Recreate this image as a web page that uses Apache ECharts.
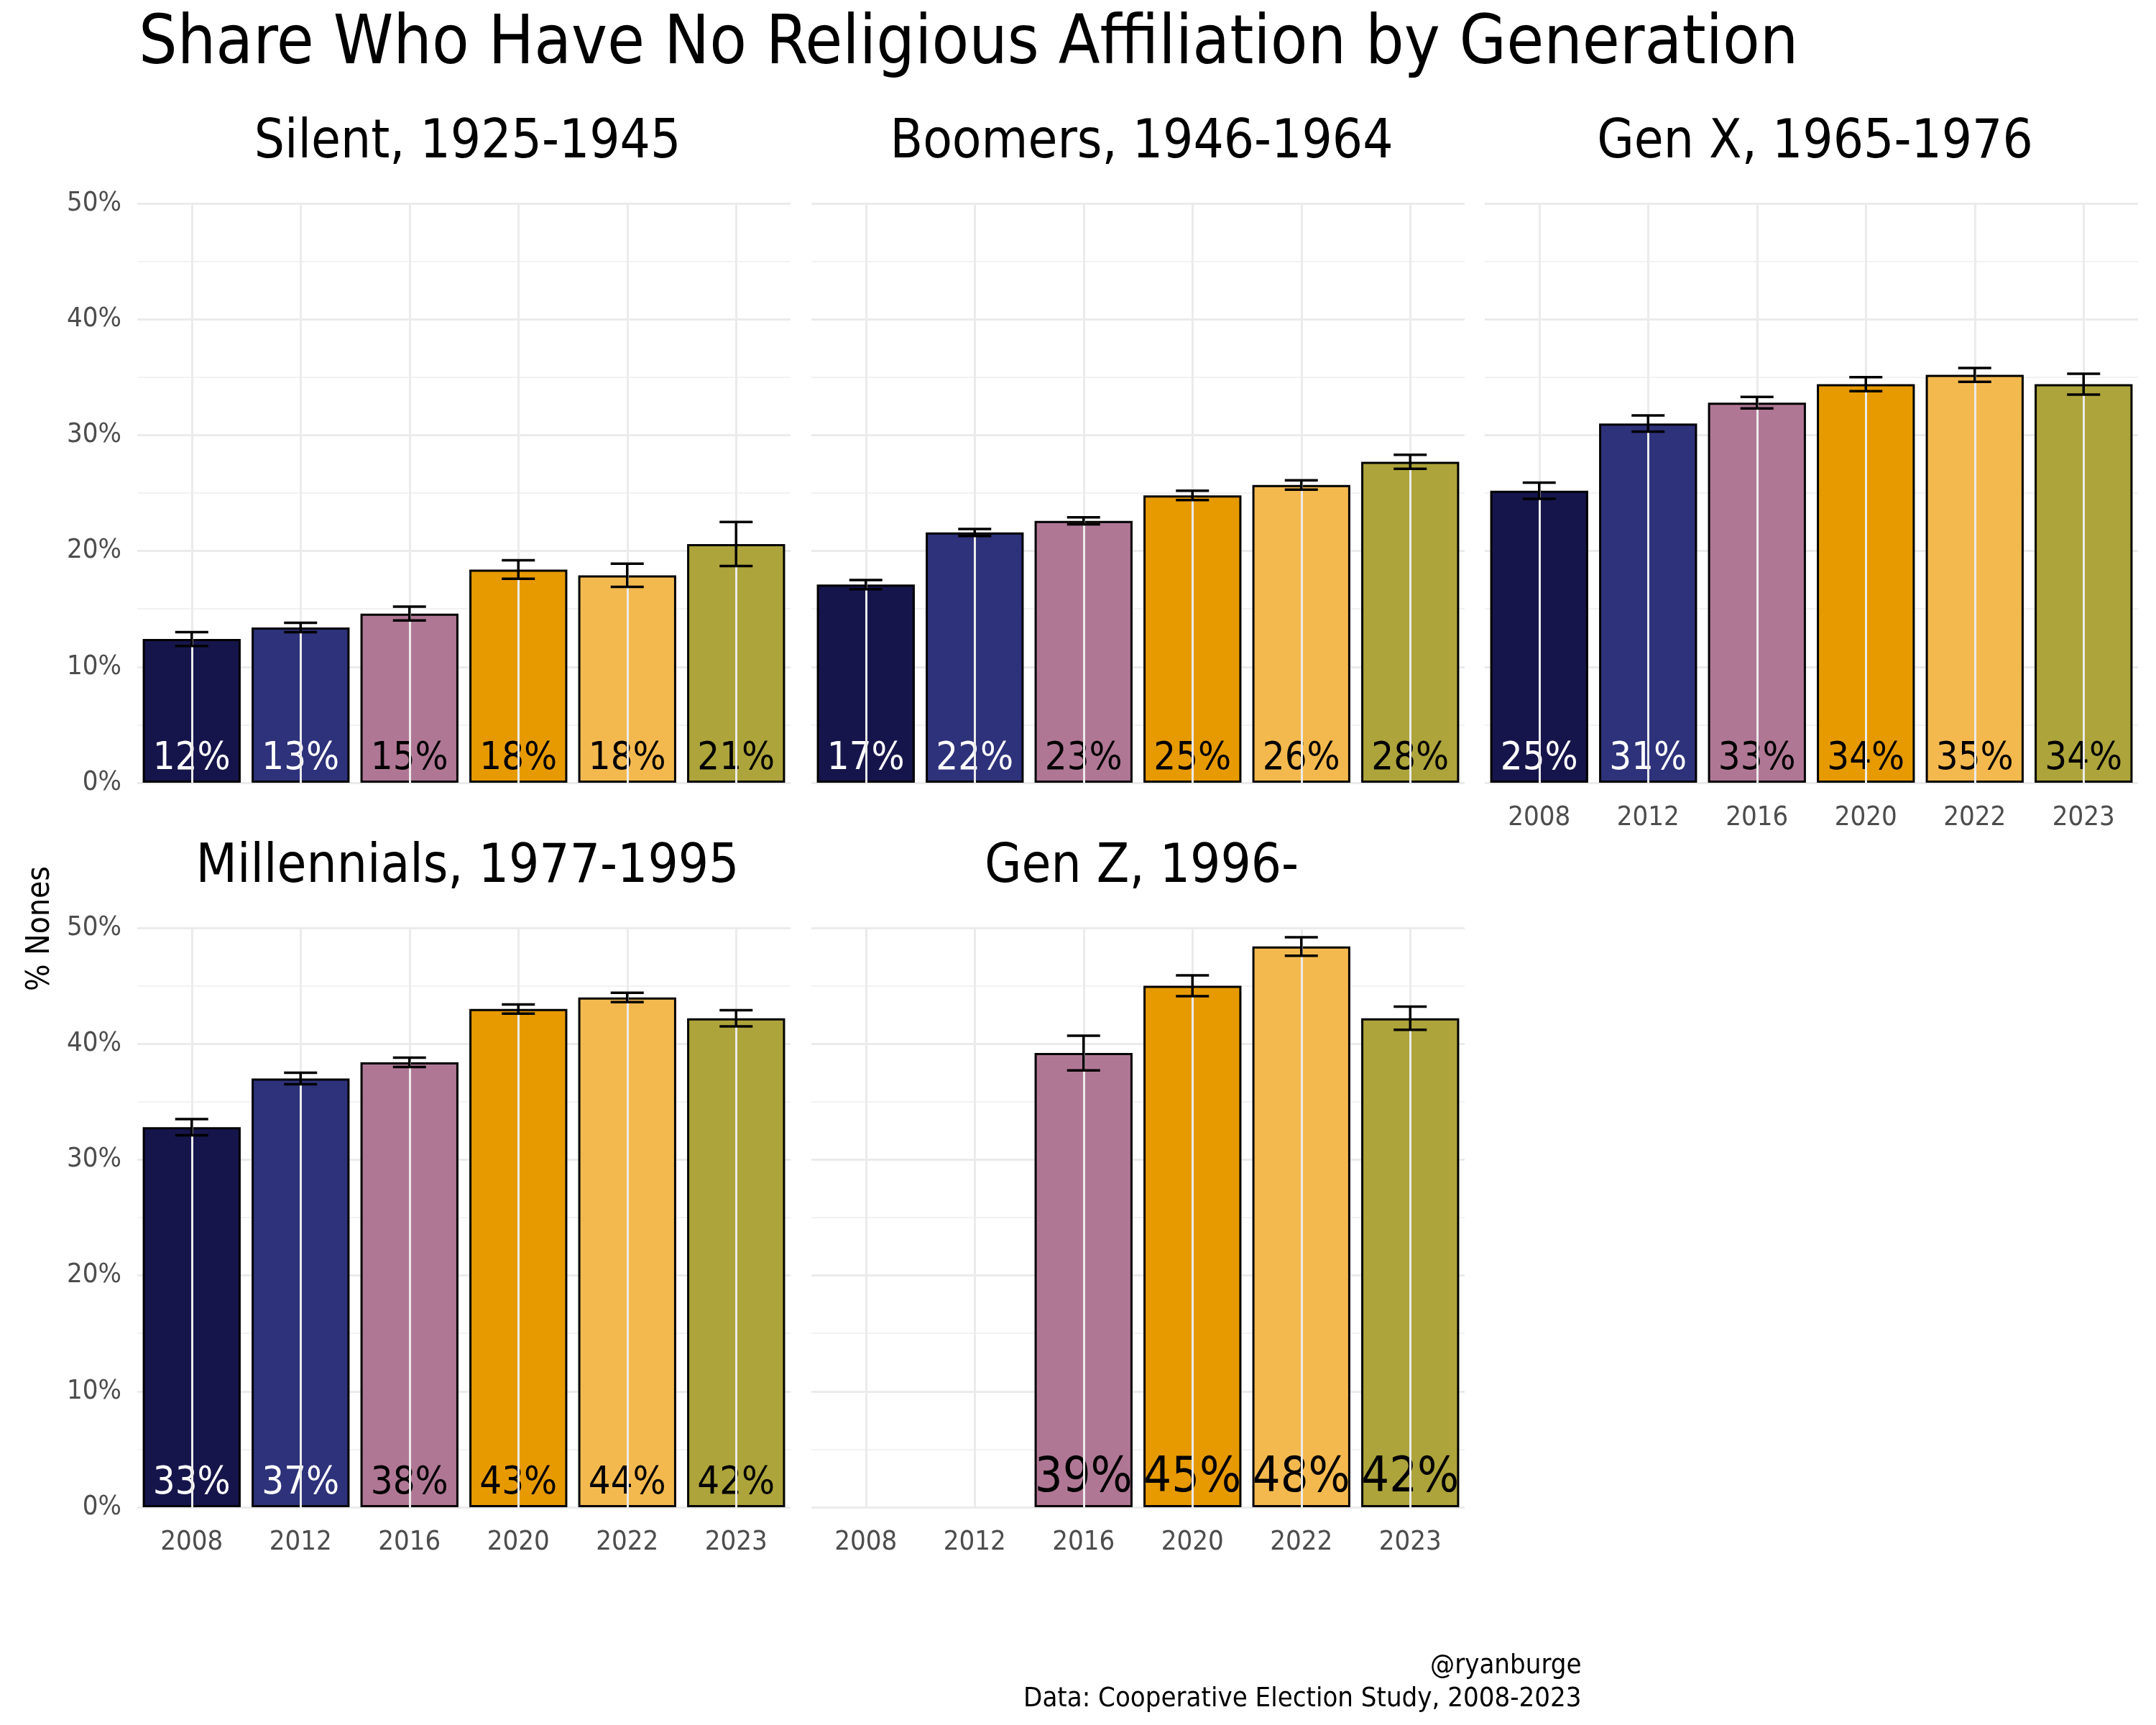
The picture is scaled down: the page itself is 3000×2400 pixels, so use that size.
<!DOCTYPE html>
<html>
<head>
<meta charset="utf-8">
<script src="https://cdn.jsdelivr.net/npm/echarts@6/dist/echarts.min.js"></script>
<style>html,body{margin:0;background:#fff}#c{width:3000px;height:2400px}</style>
</head>
<body>
<div id="c"></div>
<script>
var years = ['2008', '2012', '2016', '2020', '2022', '2023'];
var colors = ['#16154B', '#2E327A', '#B07795', '#E69A00', '#F4B94E', '#ADA43B'];
var panels = ['Silent, 1925-1945', 'Boomers, 1946-1964', 'Gen X, 1965-1976', 'Millennials, 1977-1995', 'Gen Z, 1996-'];
var silent = [12.4, 13.4, 14.6, 18.4, 17.9, 20.6];
var silentErr = [0.6, 0.4, 0.6, 0.8, 1.0, 1.9];
var boomers = [17.1, 21.6, 22.6, 24.8, 25.7, 27.7];
var boomersErr = [0.4, 0.3, 0.3, 0.4, 0.4, 0.6];
var genx = [25.2, 31.0, 32.8, 34.4, 35.2, 34.4];
var genxErr = [0.7, 0.7, 0.5, 0.6, 0.6, 0.9];
var millennials = [32.8, 37.0, 38.4, 43.0, 44.0, 42.2];
var millennialsErr = [0.7, 0.5, 0.4, 0.4, 0.4, 0.7];
var genz = [null, null, 39.2, 45.0, 48.4, 42.2];
var genzErr = [null, null, 1.5, 0.9, 0.8, 1.0];

var values = [silent, boomers, genx, millennials, genz];
var errs = [silentErr, boomersErr, genxErr, millennialsErr, genzErr];
var font = "'Liberation Sans Narrow', 'DejaVu Sans Condensed', sans-serif";

// panel positions
var lefts = [191, 1129, 2066, 191, 1129];
var tops = [283, 283, 283, 1291, 1291];
var W = 909, H = 806;

var grids = [], xAxes = [], yAxes = [], series = [], titles = [];
for (var i = 0; i < 5; i++) {
    grids.push({ left: lefts[i], top: tops[i], width: W, height: H });
    titles.push({
        text: panels[i], left: lefts[i] + W / 2, top: tops[i] - 125, textAlign: 'center',
        textStyle: { fontFamily: font, fontSize: 74, fontWeight: 'normal', color: '#000' }
    });
    var showX = (i >= 2);
    xAxes.push({
        type: 'category', gridIndex: i, data: years,
        axisLine: { show: false }, axisTick: { show: false }, splitLine: { show: false },
        axisLabel: { show: showX, fontFamily: font, fontSize: 38, color: '#4d4d4d', margin: 30 }
    });
    yAxes.push({
        type: 'value', gridIndex: i, min: 0, max: 50, interval: 10,
        axisLine: { show: false }, axisTick: { show: false },
        axisLabel: { show: (i === 0 || i === 3), fontFamily: font, fontSize: 38, color: '#4d4d4d', margin: 22,
            formatter: function (v) { return v + '%'; } },
        splitLine: { lineStyle: { color: '#ebebeb', width: 3 } },
        minorTick: { show: false, splitNumber: 2 },
        minorSplitLine: { show: true, lineStyle: { color: '#f2f2f2', width: 2 } }
    });
    // vertical gridlines at category centres
    series.push({
        type: 'line', xAxisIndex: i, yAxisIndex: i, data: [], z: 0,
        markLine: { silent: true, symbol: 'none', label: { show: false },
            lineStyle: { color: '#ebebeb', width: 3, type: 'solid' },
            data: years.map(function (y) { return { xAxis: y }; }) }
    });
    var big = (i === 4);
    series.push({
        type: 'bar', xAxisIndex: i, yAxisIndex: i, barCategoryGap: '10%', z: 2,
        data: values[i].map(function (v, k) {
            return {
                value: v,
                itemStyle: { color: colors[k], borderColor: '#000', borderWidth: 3 },
                label: { color: k < 2 ? '#fff' : '#000' }
            };
        }),
        label: {
            show: true, position: 'insideBottom', distance: 6,
            fontFamily: font, fontSize: big ? 68 : 54,
            formatter: function (p) { return p.value == null ? '' : Math.round(p.value) + '%'; }
        }
    });
    series.push({
        type: 'custom', xAxisIndex: i, yAxisIndex: i, z: 5,
        data: values[i].map(function (v, k) { return v == null ? null : [k, v - errs[i][k], v + errs[i][k]]; })
            .filter(function (d) { return d; }),
        renderItem: function (params, api) {
            var lo = api.coord([api.value(0), api.value(1)]);
            var hi = api.coord([api.value(0), api.value(2)]);
            var hw = 23;
            var st = { stroke: '#000', lineWidth: 3.5 };
            return { type: 'group', children: [
                { type: 'line', shape: { x1: lo[0], y1: lo[1], x2: hi[0], y2: hi[1] }, style: st },
                { type: 'line', shape: { x1: lo[0] - hw, y1: lo[1], x2: lo[0] + hw, y2: lo[1] }, style: st },
                { type: 'line', shape: { x1: hi[0] - hw, y1: hi[1], x2: hi[0] + hw, y2: hi[1] }, style: st }
            ] };
        }
    });
}

titles.push({
    text: 'Share Who Have No Religious Affiliation by Generation', left: 188, top: 12,
    textStyle: { fontFamily: font, fontSize: 94, fontWeight: 'normal', color: '#000' }
});
titles.push({
    text: '@ryanburge\nData: Cooperative Election Study, 2008-2023', right: 18, top: 2290, textAlign: 'right',
    textStyle: { fontFamily: font, fontSize: 38, fontWeight: 'normal', color: '#000', lineHeight: 46, align: 'right' }
});

var chart = echarts.init(document.getElementById('c'));
chart.setOption({
    backgroundColor: '#fff',
    animation: false,
    title: titles,
    graphic: [{
        type: 'text', left: 35, top: 1205, rotation: Math.PI / 2, originX: 0, originY: 0,
        style: { text: '% Nones', fontFamily: font, fontSize: 44, fill: '#000', align: 'center', verticalAlign: 'middle' },
        x: 57, y: 1205
    }],
    grid: grids, xAxis: xAxes, yAxis: yAxes, series: series
});
</script>
</body>
</html>
